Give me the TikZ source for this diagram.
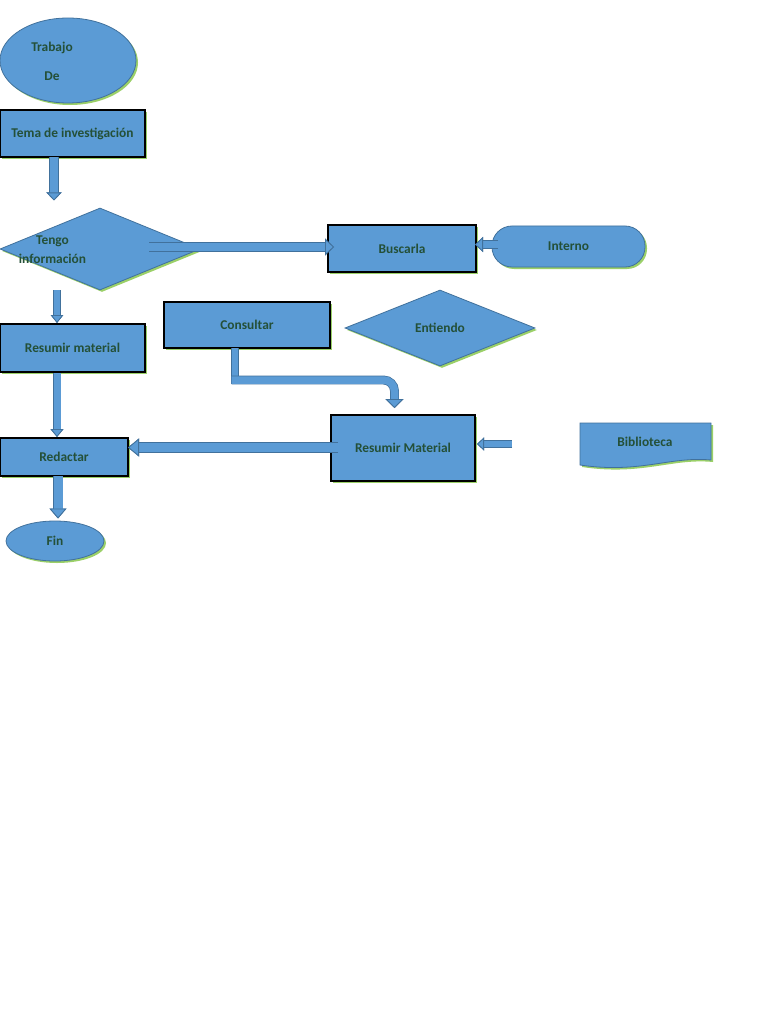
\documentclass[tikz,border=0pt]{standalone}
\usepackage{fontspec}
\setmainfont{Carlito}
\usetikzlibrary{shapes.geometric,arrows.meta,shadows}
\definecolor{boxblue}{HTML}{5B9BD5}
\definecolor{edgeblue}{HTML}{41719C}
\definecolor{shadowgreen}{HTML}{9BD068}
\definecolor{txtgreen}{RGB}{36,80,56}
\tikzset{
  gshadow/.style={drop shadow={shadow xshift=2pt,shadow yshift=-2pt,fill=shadowgreen,opacity=1}},
  lbl/.style={font=\bfseries\fontsize{13.4}{15}\selectfont, text=txtgreen},
  boxs/.style={rectangle, draw=black, line width=1.2pt, fill=boxblue, gshadow, inner sep=0pt, lbl},
  ell/.style={ellipse, draw=edgeblue, line width=0.8pt, fill=boxblue, gshadow, inner sep=0pt, lbl},
  dia/.style={diamond, draw=edgeblue, line width=0.8pt, fill=boxblue, gshadow, inner sep=0pt, lbl},
  rnd/.style={rectangle, rounded corners=20pt, draw=edgeblue, line width=0.8pt, fill=boxblue, gshadow, inner sep=0pt, lbl},
  blktip/.style 2 args={-{Triangle[length=#1pt,width=#2pt,fill=boxblue,color=edgeblue,line width=0.8pt]}},
  blk/.style n args={4}{% shaft, outline width, head length, head width
    preaction={draw=edgeblue, line width=#2pt, blktip={#3}{#4}},
    draw=boxblue, line width=#1pt, blktip={#3}{#4}},
  blkline/.style 2 args={preaction={draw=edgeblue, line width=#2pt}, draw=boxblue, line width=#1pt}
}
\begin{document}
\begin{tikzpicture}[x=1pt,y=-1pt]
\useasboundingbox[fill=white] (0,0) rectangle (768,1024);

% shapes
\node[ell, minimum width=136pt, minimum height=85pt] (trabajo) at (68,60.5) {};
\node[lbl, align=center, font=\bfseries\fontsize{13.4}{29}\selectfont] (trabajotxt) at (52,61) {Trabajo\\De};
\node[boxs, minimum width=145pt, minimum height=47pt] (tema) at (72.5,133.5) {Tema de investigación};
\node[dia, minimum width=200pt, minimum height=82pt, aspect=2.44] (tengo) at (100,249) {};
\node[lbl, align=center, font=\bfseries\fontsize{13.4}{19}\selectfont] (tengotxt) at (52.5,250) {Tengo\\información};
\node[boxs, minimum width=148pt, minimum height=47pt] (buscarla) at (402,248.5) {Buscarla};
\node[rnd, minimum width=153pt, minimum height=41pt] (interno) at (568.5,246.5) {Interno};
\node[boxs, minimum width=145pt, minimum height=48pt] (resumir1) at (72.5,348) {Resumir material};
\node[boxs, minimum width=166pt, minimum height=46pt] (consultar) at (247,325) {Consultar};
\node[dia, minimum width=190pt, minimum height=76pt, aspect=2.5] (entiendo) at (440,328) {Entiendo};
\node[boxs, minimum width=144pt, minimum height=66pt] (resumir2) at (403,448) {Resumir Material};
\node[boxs, minimum width=128pt, minimum height=38pt] (redactar) at (64,457) {Redactar};
\node[ell, minimum width=98pt, minimum height=40pt] (fin) at (55,541) {Fin};
\draw[fill=boxblue, draw=edgeblue, line width=0.8pt, gshadow]
  (580,423) -- (711,423) -- (711,460) .. controls (670,456) and (640,474) .. (580,465) -- cycle;
\node[lbl] (biblioteca) at (645,442) {Biblioteca};

% connector end points
\coordinate (a1s) at (54,157);   \coordinate (a1e) at (54,200.5);
\coordinate (a2s) at (149,247);  \coordinate (a2e) at (334,247);
\coordinate (a3s) at (498,244.5);\coordinate (a3e) at (475,244.5);
\coordinate (a4s) at (57,290);   \coordinate (a4e) at (57,323);
\coordinate (a5s) at (57,373);   \coordinate (a5e) at (57,437);
\coordinate (a6s) at (58,476);   \coordinate (a6e) at (58,518.5);
\coordinate (a7s) at (338,447.5);\coordinate (a7e) at (128,447.5);
\coordinate (a8s) at (512,444);  \coordinate (a8e) at (477,444);
\coordinate (a9s) at (235,348);  \coordinate (a9m) at (235,384);
\coordinate (a9h) at (231.5,380);\coordinate (a9c) at (394.5,380);
\coordinate (a9e) at (394.5,408);

% connectors
\draw[blk={8}{9.4}{8}{15}] (a1s) -- (a1e);
\draw[blk={8}{9.4}{9}{17}] (a2s) -- (a2e);
\draw[blk={7}{8.4}{8}{15}] (a3s) -- (a3e);
\draw[blk={6}{7.4}{8}{12.5}] (a4s) -- (a4e);
\draw[blk={7}{8.4}{8}{13}] (a5s) -- (a5e);
\draw[blk={9}{10.4}{10}{17}] (a6s) -- (a6e);
\draw[blk={9}{10.4}{11}{18}] (a7s) -- (a7e);
\draw[blk={6}{7.4}{7}{13}] (a8s) -- (a8e);
\draw[blkline={6.5}{7.9}] (a9s) -- (a9m);
\draw[blk={7.5}{8.9}{9}{18}, rounded corners=11pt] (a9h) -- (a9c) -- (a9e);
\end{tikzpicture}
\end{document}
